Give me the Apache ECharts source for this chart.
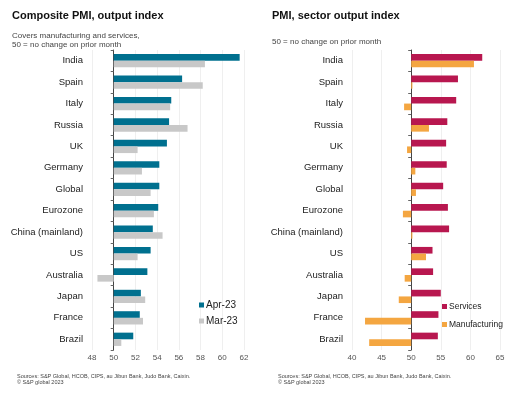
<!DOCTYPE html>
<html>
<head>
<meta charset="utf-8">
<script src="https://cdn.jsdelivr.net/npm/echarts@6/dist/echarts.min.js"></script>
<style>
  html, body { margin: 0; padding: 0; background: #fff; }
  #chart { width: 516px; height: 398px; }
</style>
</head>
<body>
<div id="chart"></div>
<script>
// categories (top to bottom)
var countries = ['India', 'Spain', 'Italy', 'Russia', 'UK', 'Germany', 'Global', 'Eurozone',
  'China (mainland)', 'US', 'Australia', 'Japan', 'France', 'Brazil']

// composite PMI output index
var compositeApr = [61.6, 56.3, 55.3, 55.1, 54.9, 54.2, 54.2, 54.1, 53.6, 53.4, 53.1, 52.5, 52.4, 51.8]
var compositeMar = [58.4, 58.2, 55.2, 56.8, 52.2, 52.6, 53.4, 53.7, 54.5, 52.2, 48.5, 52.9, 52.7, 50.7]

// sector output index (April)
var services = [62.0, 57.9, 57.6, 56.1, 55.9, 56.0, 55.4, 56.2, 56.4, 53.6, 53.7, 55.0, 54.6, 54.5]
var manufacturing = [60.6, 50.2, 48.8, 53.0, 49.3, 50.7, 50.8, 48.6, 50.2, 52.5, 48.9, 47.9, 42.2, 42.9]

// tick labels
var leftTicks = [48, 50, 52, 54, 56, 58, 60, 62]
var rightTicks = [40, 45, 50, 55, 60, 65]

var BASE = 50 // bars grow from 50 = no change
var shift = function (arr) { return arr.map(function (v) { return +(v - BASE).toFixed(2) }) }

var FONT = 'Liberation Sans, Arial, sans-serif'
var chart = echarts.init(document.getElementById('chart'))

var catAxis = function (gridIndex) {
  return {
    type: 'category',
    gridIndex: gridIndex,
    data: countries,
    inverse: true,
    axisLine: { onZero: true, lineStyle: { color: '#444', width: 1 } },
    axisTick: { show: true, length: 3, lineStyle: { color: '#666' } },
    axisLabel: { fontFamily: FONT, fontSize: 9.5, color: '#222', margin: 9 }
  }
}

var valAxis = function (gridIndex, min, max, interval) {
  return {
    type: 'value',
    gridIndex: gridIndex,
    min: min,
    max: max,
    interval: interval,
    axisLine: { show: false },
    axisTick: { show: false },
    splitLine: { show: true, lineStyle: { color: '#efefef', width: 1 } },
    axisLabel: {
      fontFamily: FONT,
      fontSize: 8,
      color: '#555',
      margin: 4,
      formatter: function (v) { return v + BASE }
    }
  }
}

var note = 'Sources: S&P Global, HCOB, CIPS, au Jibun Bank, Judo Bank, Caixin.\n© S&P global 2023'

chart.setOption({
  animation: false,
  textStyle: { fontFamily: FONT },
  title: [
    { text: 'Composite PMI, output index', left: 7, top: 5,
      textStyle: { fontSize: 11, fontWeight: 'bold', color: '#111', fontFamily: FONT } },
    { text: 'Covers manufacturing and services,\n50 = no change on prior month', left: 7, top: 26,
      textStyle: { fontSize: 8, fontWeight: 'normal', color: '#444', lineHeight: 9, fontFamily: FONT } },
    { text: 'PMI, sector output index', left: 267, top: 5,
      textStyle: { fontSize: 11, fontWeight: 'bold', color: '#111', fontFamily: FONT } },
    { text: '50 = no change on prior month', left: 267, top: 33,
      textStyle: { fontSize: 8, fontWeight: 'normal', color: '#444', fontFamily: FONT } },
    { text: note, left: 12, top: 368,
      textStyle: { fontSize: 5.5, fontWeight: 'normal', color: '#444', lineHeight: 6.5, fontFamily: FONT } },
    { text: note, left: 273, top: 368,
      textStyle: { fontSize: 5.5, fontWeight: 'normal', color: '#444', lineHeight: 6.5, fontFamily: FONT } }
  ],
  legend: [
    { data: ['Apr-23', 'Mar-23'], left: 194, top: 295, orient: 'vertical',
      itemWidth: 5, itemHeight: 5, itemGap: 6, icon: 'rect',
      textStyle: { fontSize: 10, color: '#222', padding: [0, 0, 0, -3] } },
    { data: ['Services', 'Manufacturing'], left: 437, top: 297, orient: 'vertical',
      itemWidth: 5, itemHeight: 5, itemGap: 9, icon: 'rect',
      textStyle: { fontSize: 8.5, color: '#222', padding: [0, 0, 0, -3] } }
  ],
  grid: [
    { left: 92, right: 516 - 244, top: 50, bottom: 398 - 350 },
    { left: 352, right: 516 - 500, top: 50, bottom: 398 - 350 }
  ],
  xAxis: [
    valAxis(0, leftTicks[0] - BASE, leftTicks[leftTicks.length - 1] - BASE, leftTicks[1] - leftTicks[0]),
    valAxis(1, rightTicks[0] - BASE, rightTicks[rightTicks.length - 1] - BASE, rightTicks[1] - rightTicks[0])
  ],
  yAxis: [catAxis(0), catAxis(1)],
  series: [
    { name: 'Apr-23', type: 'bar', xAxisIndex: 0, yAxisIndex: 0, data: shift(compositeApr),
      itemStyle: { color: '#00708f' }, barGap: '0%', barCategoryGap: '38%' },
    { name: 'Mar-23', type: 'bar', xAxisIndex: 0, yAxisIndex: 0, data: shift(compositeMar),
      itemStyle: { color: '#c8c8c8' } },
    { name: 'Services', type: 'bar', xAxisIndex: 1, yAxisIndex: 1, data: shift(services),
      itemStyle: { color: '#b8174f' }, barGap: '0%', barCategoryGap: '38%' },
    { name: 'Manufacturing', type: 'bar', xAxisIndex: 1, yAxisIndex: 1, data: shift(manufacturing),
      itemStyle: { color: '#f4a641' } }
  ]
})
</script>
</body>
</html>
